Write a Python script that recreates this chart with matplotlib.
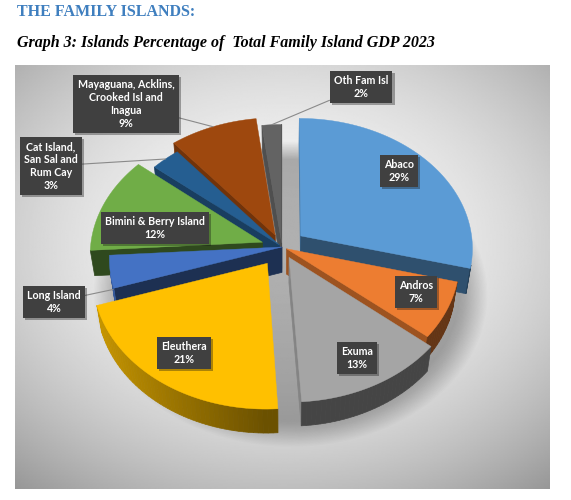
import numpy as np
import matplotlib
matplotlib.use('Agg')
import matplotlib.pyplot as plt
import matplotlib.colors as mcolors
import matplotlib.patheffects as pe
from matplotlib.patches import Polygon

# share of Family Island GDP 2023 (%), clockwise from 12 o'clock
islands = ['Abaco', 'Andros', 'Exuma', 'Eleuthera', 'Long Island',
           'Bimini & Berry Island', 'Cat Island,\nSan Sal and\nRum Cay',
           'Mayaguana, Acklins,\nCrooked Isl and\nInagua', 'Oth Fam Isl']
shares = [29, 7, 13, 21, 4, 12, 3, 9, 2]
colors = ['#5B9BD5', '#ED7D31', '#A5A5A5', '#FFC000', '#4472C4',
          '#70AD47', '#255E91', '#9E480E', '#636363']
explode = [0.14, 0.03, 0.09, 0.15, 0.0, 0.12, 0.02, 0.10, 0.03]

# label box centres (pixels) and whether a leader line is drawn
label_pos = [(399, 171), (416, 292), (357, 358), (184, 353), (54, 302),
             (155, 228), (51, 166), (126, 104), (361, 87)]
leader = [False, False, False, False, True, False, True, True, True]

W, H = 571, 500
fig = plt.figure(figsize=(W / 100, H / 100), dpi=100)
ax = fig.add_axes([0, 0, 1, 1])

# chart panel with soft radial gradient
px0, px1, py0, py1 = 15, 550, 65, 489
gx, gy = np.meshgrid(np.linspace(-1, 1, 400), np.linspace(-1, 1, 320))
rr = np.sqrt((gx * 0.95) ** 2 + (gy + 0.15) ** 2)
bg = np.clip(0.97 - 0.17 * rr ** 2, 0, 1)
ax.imshow(bg, cmap='gray', vmin=0, vmax=1, extent=(px0, px1, py1, py0),
          aspect='auto', interpolation='bilinear', zorder=0)

# simple perspective projection of a tilted pie
cx, cy = 282, 247
D, th = 7.4, np.radians(49)
f = 172 * D
h = 0.23
cam = np.array([0, -D * np.cos(th), D * np.sin(th)])


def proj(x, y, z):
    yc = y * np.sin(th) + z * np.cos(th)
    zc = D + y * np.cos(th) - z * np.sin(th)
    return cx + f * x / zc, cy - f * yc / zc


def depth(p):
    return D + p[1] * np.cos(th) - p[2] * np.sin(th)


def side_color(c, nrm):
    k = 0.42 + 0.38 * max(0.0, -nrm[0])
    return tuple(np.array(mcolors.to_rgb(c)) * k)


# soft shadow under the pie
t = np.linspace(0, 2 * np.pi, 240)
for s in np.linspace(1.16, 1.0, 24):
    pts = [proj(0.05 + s * np.sin(a), -0.05 + s * np.cos(a), -h) for a in t]
    ax.add_patch(Polygon(pts, closed=True, fc='black', ec='none',
                         alpha=0.012, zorder=1))

fr = np.array(shares) / sum(shares)
ends = np.cumsum(fr) * 2 * np.pi
starts = np.concatenate([[0], ends[:-1]])

walls, tops, anchors = [], [], []
for i in range(len(shares)):
    a0, a1 = starts[i], ends[i]
    mid = (a0 + a1) / 2
    ox, oy = explode[i] * np.sin(mid), explode[i] * np.cos(mid)
    n = max(int((a1 - a0) / np.radians(1.5)), 2)
    aa = np.linspace(a0, a1, n + 1)
    xs, ys = ox + np.sin(aa), oy + np.cos(aa)
    tops.append(([proj(ox, oy, 0)] + [proj(x, y, 0) for x, y in zip(xs, ys)],
                 colors[i]))
    anchors.append((ox, oy, mid))
    # curved outer wall
    for k in range(n):
        am = (aa[k] + aa[k + 1]) / 2
        nrm = np.array([np.sin(am), np.cos(am), 0.0])
        P = np.array([ox + np.sin(am), oy + np.cos(am), -h / 2])
        if np.dot(cam - P, nrm) > 0:
            v = [proj(xs[k], ys[k], 0), proj(xs[k + 1], ys[k + 1], 0),
                 proj(xs[k + 1], ys[k + 1], -h), proj(xs[k], ys[k], -h)]
            walls.append((depth(P), v, side_color(colors[i], nrm)))
    # flat radial walls
    for a, nrm in ((a0, np.array([-np.cos(a0), np.sin(a0), 0.0])),
                   (a1, np.array([np.cos(a1), -np.sin(a1), 0.0]))):
        ex, ey = ox + np.sin(a), oy + np.cos(a)
        P = np.array([(ox + ex) / 2, (oy + ey) / 2, -h / 2])
        if np.dot(cam - P, nrm) > 0:
            v = [proj(ox, oy, 0), proj(ex, ey, 0),
                 proj(ex, ey, -h), proj(ox, oy, -h)]
            walls.append((depth(P), v, side_color(colors[i], nrm)))

for d, v, c in sorted(walls, key=lambda w: -w[0]):
    ax.add_patch(Polygon(v, closed=True, fc=c, ec=c, lw=0.5, zorder=2))
for v, c in tops:
    ax.add_patch(Polygon(v, closed=True, fc=c, ec=c, lw=0.3, zorder=3))

# data labels
for i, name in enumerate(islands):
    txt = f'{name}\n{shares[i]}%'
    ox, oy, mid = anchors[i]
    z = -0.7 * h if islands[i] == 'Long Island' else 0
    xy = proj(ox + np.sin(mid), oy + np.cos(mid), z)
    arrow = dict(arrowstyle='-', color='#8a8a8a', lw=0.8,
                 shrinkA=0, shrinkB=0) if leader[i] else None
    an = ax.annotate(txt, xy=xy, xytext=label_pos[i], ha='center', va='center',
                     fontsize=7.7, family='Lato', weight='bold', color='white',
                     linespacing=1.2, zorder=10, arrowprops=arrow,
                     bbox=dict(boxstyle='square,pad=0.4', fc='#404040', ec='none'))
    an.get_bbox_patch().set_path_effects(
        [pe.SimplePatchShadow(offset=(1.5, -1.5), alpha=0.35), pe.Normal()])

ax.text(17, 12, 'THE FAMILY ISLANDS:', fontsize=11.5, family='Liberation Serif',
        weight='bold', color='#3f7fbf', va='center', ha='left')
ax.text(17, 43, 'Graph 3: Islands Percentage of  Total Family Island GDP 2023',
        fontsize=11.5, family='Liberation Serif', weight='bold', style='italic',
        color='black', va='center', ha='left')

ax.set_xlim(0, W)
ax.set_ylim(H, 0)
ax.axis('off')
fig.savefig('out.png', dpi=100, facecolor='white')
